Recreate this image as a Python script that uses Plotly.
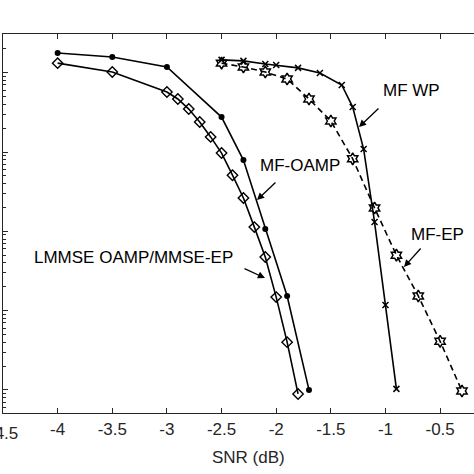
import plotly.graph_objects as go

# ---- data ----
snr_oamp = [-4, -3.5, -3, -2.5, -2.3, -2.1, -1.9, -1.7]
ber_oamp = [0.177, 0.158, 0.118, 0.0276, 7.9e-3, 1.07e-3, 1.53e-4, 1.0e-5]

snr_lmmse = [-4, -3.5, -3, -2.9, -2.8, -2.7, -2.6, -2.5, -2.4, -2.3, -2.2, -2.1, -2.0, -1.9, -1.8]
ber_lmmse = [0.132, 0.102, 0.057, 0.0466, 0.0348, 0.0239, 0.0155, 9.7e-3, 5.1e-3, 2.63e-3,
             1.13e-3, 4.74e-4, 1.48e-4, 4.0e-5, 8.9e-6]

snr_wp = [-2.5, -2.3, -2.1, -2.0, -1.8, -1.6, -1.4, -1.3, -1.2, -1.1, -1.0, -0.9]
ber_wp = [0.145, 0.141, 0.129, 0.125, 0.115, 0.099, 0.070, 0.0369, 0.0109, 1.31e-3, 1.18e-4, 1.03e-5]

snr_ep = [-2.5, -2.3, -2.1, -1.9, -1.7, -1.5, -1.3, -1.1, -0.9, -0.7, -0.5, -0.3]
ber_ep = [0.132, 0.118, 0.102, 0.0834, 0.0466, 0.0246, 8.2e-3, 1.97e-3, 5.0e-4, 1.53e-4, 4.1e-5, 9.7e-6]

xtick_vals = [-4.5, -4, -3.5, -3, -2.5, -2, -1.5, -1, -0.5, 0]
xtick_text = ["-4.5", "-4", "-3.5", "-3", "-2.5", "-2", "-1.5", "-1", "-0.5", "0"]

# ---- layout geometry ----
W, H = 474, 474
ML, MR, MT, MB = 3, 0, 34, 61
PW, PH = W - ML - MR, H - MT - MB
FONT = "Liberation Sans, Arial, sans-serif"
AX = "#262626"

fig = go.Figure()
line = dict(color="black", width=1.6)
fig.add_trace(go.Scatter(x=snr_lmmse, y=ber_lmmse, mode="lines+markers", line=line,
                         marker=dict(symbol="diamond-open", size=8, color="black", line=dict(width=1.4))))
fig.add_trace(go.Scatter(x=snr_oamp, y=ber_oamp, mode="lines+markers", line=line,
                         marker=dict(symbol="circle", size=6, color="black")))
fig.add_trace(go.Scatter(x=snr_wp, y=ber_wp, mode="lines+markers", line=line,
                         marker=dict(symbol="x-thin-open", size=6, color="black", line=dict(width=1.5, color="black"))))
fig.add_trace(go.Scatter(x=snr_ep, y=ber_ep, mode="lines+markers",
                         line=dict(color="black", width=1.6, dash="6px,4px"),
                         marker=dict(symbol="hexagram-open", size=9, color="black", line=dict(width=1.5))))


def px2paper(px, py):
    return (px - ML) / PW, (H - MB - py) / PH


labels = [
    ("MF WP", 411, 90),
    ("MF-OAMP", 300, 165),
    ("LMMSE OAMP/MMSE-EP", 133, 257),
    ("MF-EP", 437, 234),
]
for t, px, py in labels:
    x, y = px2paper(px, py)
    fig.add_annotation(x=x, y=y, xref="paper", yref="paper", text=t, showarrow=False,
                       font=dict(family=FONT, size=17, color="black"), xanchor="center", yanchor="middle")

arrows = [
    ((380, 107), (359, 127)),
    ((277, 181), (257, 200)),
    ((243, 268), (265, 278)),
    ((422, 247), (404, 267)),
]
for (tx, ty), (hx, hy) in arrows:
    x, y = px2paper(hx, hy)
    fig.add_annotation(x=x, y=y, xref="paper", yref="paper", text="", showarrow=True,
                       ax=tx - hx, ay=ty - hy, axref="pixel", ayref="pixel",
                       arrowhead=2, arrowsize=1.1, arrowwidth=1.3, arrowcolor="black", standoff=0)

# x-axis title (centered on full original axis -4.5..0)
fig.add_annotation(x=-2.25, y=-0.118, xref="x", yref="paper", text="SNR (dB)", showarrow=False,
                   font=dict(family=FONT, size=17, color=AX), xanchor="center", yanchor="middle")

# the first tick label, partly cut by the left edge (plotly hides it otherwise)
fig.add_annotation(x=xtick_vals[0], y=-0.053, xref="x", yref="paper", text=xtick_text[0],
                   showarrow=False, font=dict(family=FONT, size=17, color=AX),
                   xanchor="center", yanchor="middle")

fig.update_layout(
    width=W, height=H, margin=dict(l=ML, r=MR, t=MT, b=MB),
    paper_bgcolor="white", plot_bgcolor="white", showlegend=False,
    font=dict(family=FONT, size=17, color=AX),
)
fig.update_xaxes(range=[-4.5, -0.19], tickvals=xtick_vals, ticktext=xtick_text,
                 showline=True, linecolor=AX, linewidth=1.2, mirror="ticks",
                 ticks="inside", ticklen=5, tickcolor=AX, tickwidth=1.2,
                 showgrid=False, zeroline=False, tickfont=dict(family=FONT, size=17, color=AX))
fig.update_yaxes(type="log", range=[-5.291, -0.512], dtick=1, showticklabels=False,
                 showline=True, linecolor=AX, linewidth=1.2, mirror=False,
                 ticks="inside", ticklen=5, tickcolor=AX, tickwidth=1.2,
                 minor=dict(ticks="inside", ticklen=3, tickcolor=AX, showgrid=False),
                 showgrid=False, zeroline=False)

fig.write_html("out.html")
